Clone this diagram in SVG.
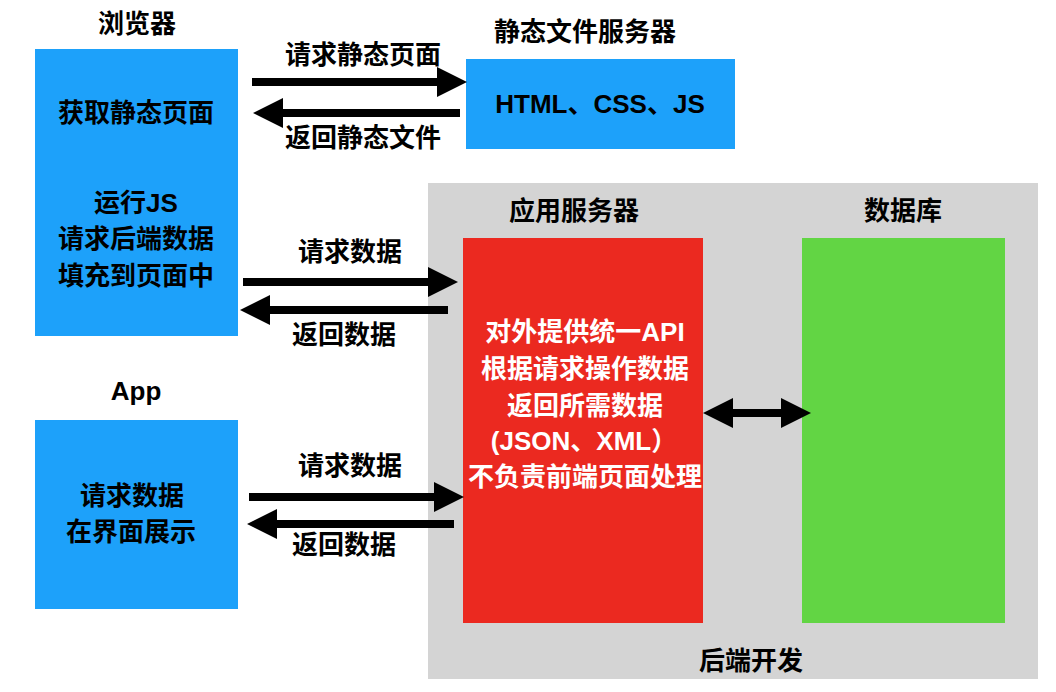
<svg xmlns="http://www.w3.org/2000/svg" width="1056" height="692" viewBox="0 0 1056 692">
<style>
text{font-family:"Liberation Sans","Noto Sans CJK SC",sans-serif;font-weight:bold;font-size:26px;text-anchor:middle;fill:#000}
.w{fill:#fff}
.blue{fill:#1da1fa}
.arr{stroke:#000;stroke-width:8;fill:none;marker-end:url(#ah)}
</style>
<defs>
<marker id="ah" markerUnits="userSpaceOnUse" markerWidth="32" markerHeight="32" viewBox="-1 -16 32 32" refX="0" refY="0" orient="auto-start-reverse">
<path d="M-1,-15 L29,0 L-1,15 Z" fill="#000"/>
</marker>
</defs>
<rect width="1056" height="692" fill="#fff"/>
<g id="backend">
<rect x="428" y="183" width="610" height="496" fill="#d4d4d4"/>
<text x="751" y="670">后端开发</text>
</g>
<g id="browser">
<rect class="blue" x="35" y="49" width="203" height="287"/>
<text x="137" y="33">浏览器</text>
<text x="136" y="122">获取静态页面</text>
<text x="136" y="212">运行JS</text>
<text x="136" y="248">请求后端数据</text>
<text x="136" y="285">填充到页面中</text>
</g>
<g id="static-server">
<rect class="blue" x="466" y="59" width="269" height="90"/>
<text x="585" y="41">静态文件服务器</text>
<text x="600" y="113">HTML、CSS、JS</text>
</g>
<g id="app-server">
<rect x="463" y="238" width="240" height="385" fill="#eb2920"/>
<text x="574" y="220">应用服务器</text>
<text class="w" x="585" y="341">对外提供统一API</text>
<text class="w" x="585" y="378">根据请求操作数据</text>
<text class="w" x="585" y="415">返回所需数据</text>
<text class="w" x="584" y="450">(JSON、XML）</text>
<text class="w" x="585" y="486">不负责前端页面处理</text>
</g>
<g id="database">
<rect x="802" y="238" width="203" height="385" fill="#62d544"/>
<text x="903" y="220">数据库</text>
</g>
<g id="app">
<rect class="blue" x="35" y="420" width="203" height="189"/>
<text x="136" y="400">App</text>
<text x="132" y="505">请求数据</text>
<text x="131" y="541">在界面展示</text>
</g>
<g id="connectors">
<line class="arr" x1="252" y1="82" x2="438" y2="82"/>
<text x="363" y="64">请求静态页面</text>
<line class="arr" x1="460" y1="113" x2="282" y2="113"/>
<text x="363" y="147">返回静态文件</text>
<line class="arr" x1="243" y1="282" x2="429" y2="282"/>
<text x="350" y="261">请求数据</text>
<line class="arr" x1="448" y1="310" x2="269" y2="310"/>
<text x="344" y="344">返回数据</text>
<line class="arr" x1="249" y1="497" x2="435" y2="497"/>
<text x="350" y="475">请求数据</text>
<line class="arr" x1="454" y1="524" x2="276" y2="524"/>
<text x="344" y="554">返回数据</text>
<line class="arr" x1="732" y1="413" x2="782" y2="413" marker-start="url(#ah)"/>
</g>
</svg>
